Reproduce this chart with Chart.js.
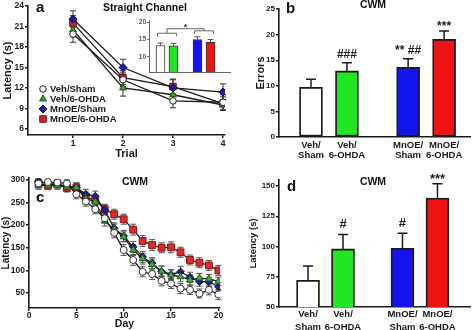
<!DOCTYPE html>
<html>
<head>
<meta charset="utf-8">
<script src="https://cdn.jsdelivr.net/npm/chart.js@4.4.1/dist/chart.umd.min.js"></script>
<style>
  body { margin: 0; width: 474px; height: 330px; position: relative; overflow: hidden; background: #fff;
         font-family: "Liberation Sans", Arial, sans-serif; font-weight: bold; color: #111; }
  canvas { position: absolute; }
  .lbl { position: absolute; white-space: nowrap; }
</style>
</head>
<body>
<canvas id="panelA" width="240" height="165" style="left:0;top:0"></canvas>
<canvas id="inset" width="106" height="66" style="left:130px;top:12px"></canvas>
<canvas id="panelB" width="234" height="165" style="left:240px;top:0"></canvas>
<canvas id="panelC" width="240" height="165" style="left:0;top:165px"></canvas>
<canvas id="panelD" width="234" height="165" style="left:240px;top:165px"></canvas>
<script>
// ---- data ----
const groups = ["Veh/Sham", "Veh/6-OHDA", "MnOE/Sham", "MnOE/6-OHDA"];
const groupLines = [["Veh/", "Sham"], ["Veh/", "6-OHDA"], ["MnOE/", "Sham"], ["MnOE/", "6-OHDA"]];

// a: straight channel, latency per trial
const trials = [1, 2, 3, 4];
const aVehSham = [19.9, 13.2, 10.1, 9.9];
const aVeh6 = [20.5, 12.0, 11.0, 9.5];
const aMnSham = [22.1, 15.0, 12.0, 11.4];
const aMn6 = [21.5, 13.5, 12.2, 9.7];
const aErrVehSham = [1.2, 1.0, 1.0, 1.1];
const aErrVeh6 = [1.0, 1.2, 1.0, 0.8];
const aErrMnSham = [1.2, 1.2, 1.2, 1.2];
const aErrMn6 = [1.1, 1.0, 1.1, 1.0];

// a inset: mean over trials
const insetMeans = [13.3, 13.2, 15.0, 14.2];
const insetErr = [0.7, 0.7, 0.8, 0.8];

// b: CWM errors
const errMeans = [9.7, 12.9, 13.6, 19.1];
const errErr = [1.6, 1.6, 1.7, 1.6];
const errMarks = ["", "###", "** ##", "***"];

// c: CWM latency per day
const days = [1, 2, 3, 4, 5, 6, 7, 8, 9, 10, 11, 12, 13, 14, 15, 16, 17, 18, 19, 20];
const cVehSham = [292, 295, 294, 292, 268, 252, 235, 215, 183, 145, 123, 97, 92, 77, 71, 60, 57, 49, 57, 47];
const cVeh6 = [287, 288, 287, 284, 283, 259, 251, 209, 191, 174, 145, 126, 113, 98, 90, 86, 79, 83, 81, 76];
const cMnSham = [296, 292, 290, 286, 283, 268, 264, 233, 193, 176, 152, 130, 116, 98, 91, 97, 85, 75, 75, 64];
const cMn6 = [292, 287, 290, 282, 283, 262, 255, 235, 224, 213, 190, 165, 156, 150, 151, 140, 123, 117, 111, 100];
const cErrVehSham = [10, 6, 6, 8, 10, 10, 10, 10, 11, 12, 12, 11, 12, 11, 11, 11, 10, 10, 11, 11];
const cErrVeh6 = [8, 8, 8, 9, 10, 10, 10, 11, 11, 11, 12, 12, 12, 11, 11, 11, 11, 10, 10, 9];
const cErrMnSham = [6, 7, 7, 8, 9, 11, 11, 11, 12, 12, 12, 12, 12, 12, 11, 12, 11, 10, 10, 9];
const cErrMn6 = [8, 8, 8, 9, 10, 11, 11, 11, 11, 11, 12, 12, 12, 11, 12, 11, 11, 11, 11, 11];

// d: CWM latency over all days
const latMeans = [72, 98, 98.5, 140];
const latErr = [12, 12, 12.5, 12];
const latMarks = ["", "#", "#", "***"];

// ---- look ----
const FONT = '"Liberation Sans", Arial, sans-serif';
const INK = "#1a1a1a";
const barFill = ["#ffffff", "#22e622", "#1414ee", "#ee1414"];

Chart.defaults.font.family = FONT;
Chart.defaults.font.weight = "bold";
Chart.defaults.color = INK;
Chart.defaults.animation = false;
Chart.defaults.responsive = false;
Chart.defaults.plugins.legend.display = false;
Chart.defaults.plugins.tooltip.enabled = false;

// spread groups in two pairs with a gap between them
const slots = gap => groups.map((g, i) => i + (i >= 2 ? gap : 0));

// text outside the charts, placed by baseline
function label(text, x, base, size, center) {
  const d = document.createElement("div");
  d.className = "lbl";
  d.textContent = text;
  d.style.fontSize = size + "px";
  d.style.lineHeight = size + "px";
  d.style.left = x + "px";
  d.style.top = (base - 0.847 * size) + "px";
  if (center) d.style.transform = "translateX(-50%)";
  document.body.appendChild(d);
}

function num(d) { return typeof d === "object" ? d.y : d; }

const errorBars = {
  id: "errorBars",
  beforeDatasetsDraw(chart) {
    const { ctx } = chart;
    const y = chart.scales.y;
    chart.data.datasets.forEach((ds, i) => {
      if (!ds.err) return;
      const meta = chart.getDatasetMeta(i);
      ctx.save();
      ctx.strokeStyle = ds.errColor || INK;
      ctx.lineWidth = ds.errWidth || 1;
      const cap = ds.errCap || 3;
      meta.data.forEach((el, j) => {
        const v = num(ds.data[j]);
        const top = y.getPixelForValue(v + ds.err[j]);
        const bot = ds.errUp ? y.getPixelForValue(v) : y.getPixelForValue(v - ds.err[j]);
        ctx.beginPath();
        ctx.moveTo(el.x, top); ctx.lineTo(el.x, bot);
        ctx.moveTo(el.x - cap, top); ctx.lineTo(el.x + cap, top);
        if (!ds.errUp) { ctx.moveTo(el.x - cap, bot); ctx.lineTo(el.x + cap, bot); }
        ctx.stroke();
      });
      ctx.restore();
    });
  }
};

const markText = {
  id: "markText",
  afterDatasetsDraw(chart, args, o) {
    if (!o.labels) return;
    const { ctx, scales: { x, y } } = chart;
    ctx.save();
    ctx.font = `bold ${o.size}px ${FONT}`;
    ctx.fillStyle = INK;
    ctx.textAlign = "center";
    o.labels.forEach((t, i) => {
      if (!t) return;
      const top = y.getPixelForValue(o.means[i] + o.errs[i]);
      const gap = t.includes("#") ? o.gapHash : o.gapStar;
      ctx.fillText(t, x.getPixelForValue(o.slots[i]), top - gap);
    });
    ctx.restore();
  }
};

function yAxis(min, max, ticks, width, title, tickSize, titleSize, titlePad) {
  return {
    type: "linear", min, max,
    afterBuildTicks: s => { s.ticks = ticks.map(v => ({ value: v })); },
    afterFit: s => { s.width = width; },
    grid: { drawOnChartArea: false, tickLength: 3, color: INK, lineWidth: 1.4 },
    border: { color: INK, width: 1.6 },
    ticks: { font: { size: tickSize }, padding: 1, color: INK },
    title: title ? { display: true, text: title, font: { size: titleSize }, padding: { top: titlePad, bottom: 0 }, color: INK }
                 : { display: false }
  };
}

function barX(min, max, pos, height, lineH, pad) {
  return {
    type: "linear", min, max, offset: false,
    afterBuildTicks: s => { s.ticks = pos.map(v => ({ value: v })); },
    afterFit: s => { s.height = height; },
    grid: { display: false, drawTicks: false, offset: false },
    border: { color: INK, width: 1.6 },
    ticks: { font: { size: 9.5, lineHeight: lineH }, padding: pad, maxRotation: 0, autoSkip: false, color: INK,
             callback: (v, i) => groupLines[i] }
  };
}

// ---- panel a ----
const legendA = {
  id: "legendA",
  afterDraw(chart) {
    const { ctx } = chart;
    const rows = [89, 99, 109, 119];
    ctx.save();
    chart.data.datasets.forEach((ds, i) => {
      ctx.fillStyle = ds.backgroundColor;
      ctx.strokeStyle = ds.pointBorderColor;
      ctx.lineWidth = 1;
      Chart.helpers.drawPoint(ctx, { pointStyle: ds.pointStyle, radius: ds.pointRadius, borderWidth: 1, rotation: 0 }, 43, rows[i]);
      ctx.fillStyle = INK;
      ctx.font = `bold 9.5px ${FONT}`;
      ctx.textBaseline = "middle";
      ctx.fillText(ds.label, 50, rows[i] + 0.5);
    });
    ctx.restore();
  }
};

function lineSet(label, xs, ys, errs, style, fill, edge, r) {
  return {
    label, data: xs.map((x, i) => ({ x, y: ys[i] })), err: errs, errCap: 3, errColor: "#333",
    borderColor: INK, borderWidth: 1.3, pointStyle: style, pointRadius: r,
    backgroundColor: fill, pointBackgroundColor: fill, pointBorderColor: edge, pointBorderWidth: 1
  };
}

new Chart(document.getElementById("panelA"), {
  type: "line",
  data: {
    datasets: [
      lineSet("Veh/Sham", trials, aVehSham, aErrVehSham, "circle", "#ffffff", "#222", 3.3),
      lineSet("Veh/6-OHDA", trials, aVeh6, aErrVeh6, "triangle", "#3d9a2c", "#1f5a16", 4),
      lineSet("MnOE/Sham", trials, aMnSham, aErrMnSham, "rectRot", "#1c1ca8", "#0d0d60", 4),
      lineSet("MnOE/6-OHDA", trials, aMn6, aErrMn6, "rect", "#d82424", "#701010", 4.6)
    ]
  },
  options: {
    layout: { padding: { left: 0, top: 5, right: 15, bottom: 0 } },
    scales: {
      x: {
        type: "linear", min: 0.1, max: 4.04,
        afterBuildTicks: s => { s.ticks = trials.map(v => ({ value: v })); },
        afterFit: s => { s.height = 30; },
        grid: { drawOnChartArea: false, tickLength: 3, color: INK, lineWidth: 1.4 },
        border: { color: INK, width: 1.6 },
        ticks: { font: { size: 8.5 }, padding: 1, color: INK },
        title: { display: true, text: "Trial", font: { size: 11 }, padding: { top: 0, bottom: 4 }, color: INK }
      },
      y: yAxis(5.1, 24, [6, 9, 12, 15, 18, 21, 24], 28, "Latency (s)", 8.5, 11, 1)
    }
  },
  plugins: [errorBars, legendA]
});

// ---- inset of a ----
const insetPos = slots(0.85);
const bracket = {
  id: "bracket",
  afterDatasetsDraw(chart) {
    const { ctx, scales: { x, y } } = chart;
    const px = i => x.getPixelForValue(insetPos[i]);
    const yl = y.getPixelForValue(16.8), yr = y.getPixelForValue(17.5), yt = y.getPixelForValue(18.1);
    const ml = (px(0) + px(1)) / 2, mr = (px(2) + px(3)) / 2;
    ctx.save();
    ctx.strokeStyle = "#666";
    ctx.lineWidth = 1;
    ctx.beginPath();
    ctx.moveTo(px(0) - 3, yl + 3); ctx.lineTo(px(0) - 3, yl); ctx.lineTo(px(1) + 3, yl); ctx.lineTo(px(1) + 3, yl + 3);
    ctx.moveTo(ml, yl); ctx.lineTo(ml, yt); ctx.lineTo(mr, yt); ctx.lineTo(mr, yr);
    ctx.moveTo(px(2) - 3, yr + 3); ctx.lineTo(px(2) - 3, yr); ctx.lineTo(px(3) + 3, yr); ctx.lineTo(px(3) + 3, yr + 3);
    ctx.stroke();
    ctx.fillStyle = "#444";
    ctx.font = `bold 9px ${FONT}`;
    ctx.textAlign = "center";
    ctx.fillText("*", (ml + mr) / 2, yt + 1);
    ctx.restore();
  }
};

new Chart(document.getElementById("inset"), {
  type: "bar",
  data: {
    datasets: [{
      data: insetPos.map((x, i) => ({ x, y: insetMeans[i] })),
      err: insetErr, errUp: true, errCap: 3, errColor: "#555",
      backgroundColor: barFill, borderColor: "#333", borderWidth: 1, borderSkipped: false, barThickness: 9
    }]
  },
  options: {
    layout: { padding: { left: 0, top: 8, right: 6, bottom: 0 } },
    scales: {
      x: { type: "linear", min: -0.885, max: 5.35, offset: false,
           afterFit: s => { s.height = 6; },
           grid: { display: false, offset: false }, ticks: { display: false },
           border: { color: "#666", width: 1 } },
      y: { type: "linear", min: 5.7, max: 20.6,
           afterBuildTicks: s => { s.ticks = [10, 15, 20].map(v => ({ value: v })); },
           afterFit: s => { s.width = 19; },
           grid: { drawOnChartArea: false, tickLength: 2, color: "#666" },
           border: { color: "#666", width: 1 },
           ticks: { font: { size: 6.5 }, padding: 1, color: "#555" } }
    }
  },
  plugins: [errorBars, bracket]
});

// ---- panel b ----
const posB = slots(0.7);
new Chart(document.getElementById("panelB"), {
  type: "bar",
  data: {
    datasets: [{
      data: posB.map((x, i) => ({ x, y: errMeans[i] })),
      err: errErr, errUp: true, errCap: 5, errWidth: 1.5,
      backgroundColor: barFill, borderColor: INK, borderWidth: 1.8, borderSkipped: false, barThickness: 23
    }]
  },
  options: {
    layout: { padding: { left: 14, top: 9, right: 4, bottom: 0 } },
    scales: {
      x: barX(-0.889, 4.42, posB, 28, 1.05, 3),
      y: yAxis(0, 25, [0, 5, 10, 15, 20, 25], 25, "Errors", 8, 11, 0)
    },
    plugins: { markText: { labels: errMarks, means: errMeans, errs: errErr, slots: posB, size: 12, gapHash: 5, gapStar: 1 } }
  },
  plugins: [errorBars, markText]
});

// ---- panel c ----
new Chart(document.getElementById("panelC"), {
  type: "line",
  data: {
    datasets: [
      Object.assign(lineSet("Veh/Sham", days, cVehSham, cErrVehSham, "circle", "#ffffff", "#333", 3.5), { errColor: "#555" }),
      Object.assign(lineSet("Veh/6-OHDA", days, cVeh6, cErrVeh6, "triangle", "#3fae3f", "#1d5e1d", 4), { errColor: "#555" }),
      Object.assign(lineSet("MnOE/Sham", days, cMnSham, cErrMnSham, "rectRot", "#22228a", "#0d0d50", 3.8), { errColor: "#555" }),
      Object.assign(lineSet("MnOE/6-OHDA", days, cMn6, cErrMn6, "rect", "#e02a2a", "#8a1414", 4.8), { errColor: "#555" })
    ]
  },
  options: {
    layout: { padding: { left: 0, top: 13, right: 20, bottom: 0 } },
    scales: {
      x: {
        type: "linear", min: 0, max: 20.17,
        afterBuildTicks: s => { s.ticks = [0, 5, 10, 15, 20].map(v => ({ value: v })); },
        afterFit: s => { s.height = 22; },
        grid: { drawOnChartArea: false, tickLength: 3, color: INK, lineWidth: 1.4 },
        border: { color: INK, width: 1.6 },
        ticks: { font: { size: 8.5 }, padding: 0, color: INK },
        title: { display: true, text: "Day", font: { size: 10.5 }, padding: { top: 0, bottom: 0 }, color: INK }
      },
      y: yAxis(17, 304, [50, 100, 150, 200, 250, 300], 29, "Latency (s)", 8.5, 10, 0)
    }
  },
  plugins: [errorBars]
});

// ---- panel d ----
const posD = slots(0.7);
new Chart(document.getElementById("panelD"), {
  type: "bar",
  data: {
    datasets: [{
      data: posD.map((x, i) => ({ x, y: latMeans[i] })),
      err: latErr, errUp: true, errCap: 5, errWidth: 1.5,
      backgroundColor: barFill, borderColor: INK, borderWidth: 1.8, borderSkipped: false, barThickness: 23
    }]
  },
  options: {
    layout: { padding: { left: 8, top: 15, right: 4, bottom: 0 } },
    scales: {
      x: barX(-0.83, 4.63, posD, 23, 1.35, 1),
      y: yAxis(50, 155, [50, 75, 100, 125, 150], 31, "Latency (s)", 8, 9.5, 0)
    },
    plugins: { markText: { labels: latMarks, means: latMeans, errs: latErr, slots: posD, size: 13, gapHash: 6, gapStar: 1 } }
  },
  plugins: [errorBars, markText]
});

// panel letters and titles
label("a", 36, 12, 15);
label("Straight Channel", 145, 11, 10.5, true);
label("b", 286, 13, 15);
label("CWM", 373, 8, 10.5, true);
label("c", 36, 202, 15);
label("CWM", 135, 185, 10.5, true);
label("d", 287, 191, 15);
label("CWM", 373, 184.5, 10.5, true);
</script>
</body>
</html>
